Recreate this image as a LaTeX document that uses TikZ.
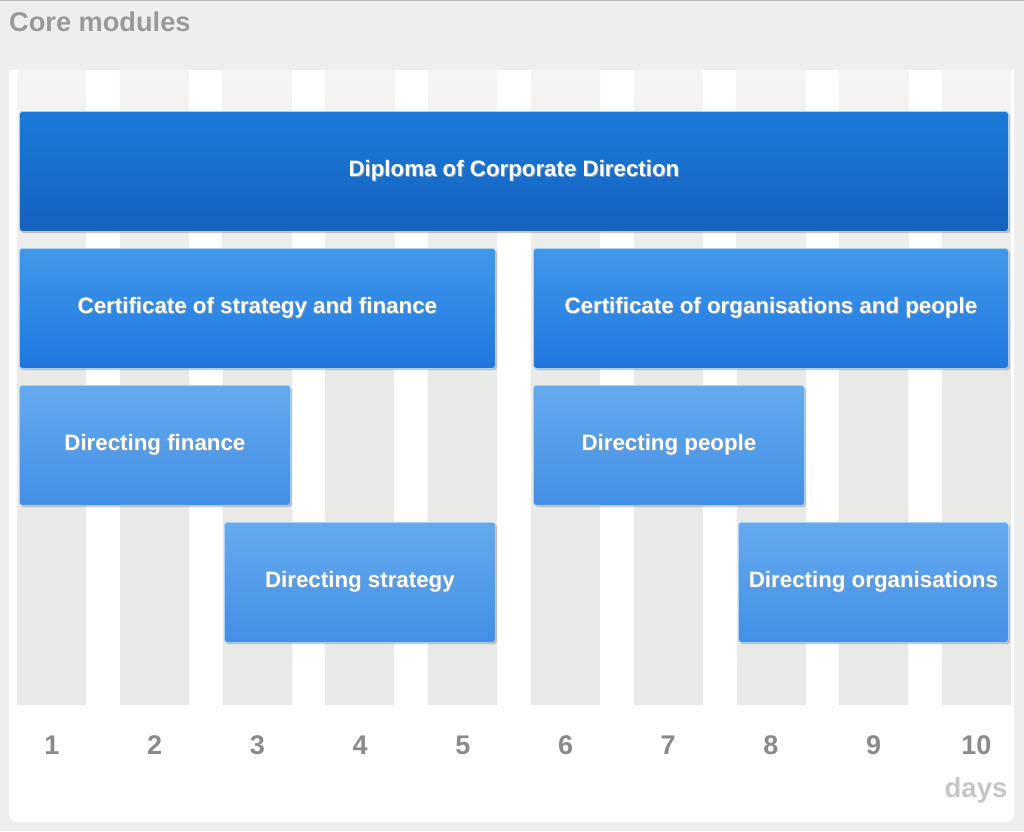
\documentclass[tikz,border=0pt]{standalone}
\usepackage{fontspec}
\setmainfont{Liberation Sans}
\usetikzlibrary{shadows}
\definecolor{bgc}{HTML}{EEEEEE}
\definecolor{stripetop}{HTML}{F5F5F4}
\definecolor{stripebot}{HTML}{E9EAE7}
\definecolor{dipT}{HTML}{1B7BDA}
\definecolor{dipB}{HTML}{1561BE}
\definecolor{cerT}{HTML}{4198EA}
\definecolor{cerB}{HTML}{1F77E0}
\definecolor{modT}{HTML}{64AAEE}
\definecolor{modB}{HTML}{438FE6}
\definecolor{numc}{HTML}{8A8A8A}
\definecolor{daysc}{HTML}{C6C6C6}
\definecolor{titlec}{HTML}{999999}
\definecolor{tshc}{HTML}{0E4A8E}
\newcommand\tsh[1]{\makebox[0pt][l]{\hspace{1pt}\raisebox{-1.2pt}{\textcolor{tshc!55}{#1}}}#1}
\tikzset{
  boxbase/.style={rectangle, rounded corners=3pt, anchor=north west, inner sep=0pt,
    draw=white!55!cerT, line width=0.8pt, text=white,
    font=\fontsize{22.3}{25}\selectfont\bfseries,
    drop shadow={shadow xshift=1.6pt, shadow yshift=-1.8pt, opacity=0.35, fill=black!60}},
  dipbox/.style={boxbase, top color=dipT, bottom color=dipB, minimum width=989pt, minimum height=120pt},
  cerbox/.style={boxbase, top color=cerT, bottom color=cerB, minimum width=476pt, minimum height=120pt},
  modbox/.style={boxbase, top color=modT, bottom color=modB, minimum width=271pt, minimum height=120pt},
  daynum/.style={text=numc, font=\fontsize{27}{30}\selectfont\bfseries, inner sep=0pt},
  dayslbl/.style={text=daysc, font=\fontsize{27.5}{30}\selectfont\bfseries, inner sep=0pt},
  titlelbl/.style={text=titlec, font=\fontsize{27.2}{30}\selectfont\bfseries, inner sep=0pt, anchor=west},
}
\begin{document}
\begin{tikzpicture}[x=1pt, y=-1pt]
\useasboundingbox (0,0) rectangle (1024,831);
\fill[bgc] (0,0) rectangle (1024,831);
\draw[black!28, line width=1.2pt] (0,0.6) -- (1024,0.6);
% panel
\fill[white] (9,70) [rounded corners=8pt] -- (9,822) -- (1014,822) [sharp corners] -- (1014,70) -- cycle;
% stripes
\foreach \i in {0,...,9} {
  \fill[stripebot] ({17+\i*102.8},70) rectangle ({86+\i*102.8},705);
  \begin{scope}
    \clip ({17+\i*102.8},70) rectangle ({86+\i*102.8},330);
    \shade[top color=stripetop, bottom color=stripebot] ({16+\i*102.8},69) rectangle ({87+\i*102.8},331);
  \end{scope}
}
% title
\node[titlelbl] (title) at (9,22) {Core modules};
% boxes
\node[dipbox] (dip) at (19,111) {\tsh{Diploma of Corporate Direction}};
\node[cerbox] (cs) at (19,248) {\tsh{Certificate of strategy and finance}};
\node[cerbox, minimum width=475pt] (co) at (533,248) {\tsh{Certificate of organisations and people}};
\node[modbox] (df) at (19,385) {\tsh{Directing finance}};
\node[modbox] (dp) at (533,385) {\tsh{Directing people}};
\node[modbox] (ds) at (224,522) {\tsh{Directing strategy}};
\node[modbox, minimum width=270pt] (dorg) at (738,522) {\tsh{Directing organisations}};
% day numbers
\foreach \i in {1,...,10} {
  \node[daynum] (n\i) at ({52+(\i-1)*102.7},745) {\i};
}
\node[dayslbl] (days) at (976,790) {days};
\end{tikzpicture}
\end{document}
